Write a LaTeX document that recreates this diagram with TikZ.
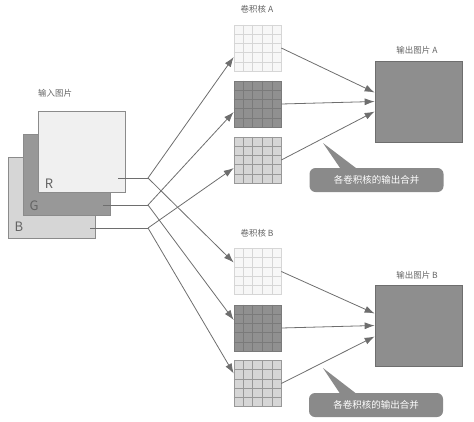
\documentclass[tikz,border=0pt]{standalone}
\usepackage{fontspec}
\newfontfamily\cjk{Noto Sans CJK SC}
\usetikzlibrary{arrows.meta,calc}
\definecolor{grisTrait}{RGB}{110,110,110}
\definecolor{grisTexte}{RGB}{100,100,100}
\definecolor{grisClair}{RGB}{240,240,240}
\definecolor{grisMoyen}{RGB}{214,214,214}
\definecolor{grisFonce}{RGB}{152,152,152}
\definecolor{grisSortie}{RGB}{142,142,142}
\definecolor{grisBulle}{RGB}{138,138,138}

% 5x5 grid over a kernel node
\newcommand{\grille}[2]{%
  \foreach \k in {1,...,4}{
    \draw[#2,line width=0.5pt] ($(#1.north west)!\k/5!(#1.north east)$) -- ($(#1.south west)!\k/5!(#1.south east)$);
    \draw[#2,line width=0.5pt] ($(#1.north west)!\k/5!(#1.south west)$) -- ($(#1.north east)!\k/5!(#1.south east)$);
  }}

\begin{document}
\begin{tikzpicture}[x=1pt,y=-1pt,font=\cjk,
  titre/.style={text=grisTexte,font=\cjk\fontsize{8.5}{10}\selectfont},
  entree/.style={rectangle,minimum width=87pt,minimum height=81pt,draw=grisTrait!80,line width=0.7pt},
  canal/.style={text=grisTexte,font=\cjk\fontsize{13}{13}\selectfont},
  noyau/.style={rectangle,minimum width=47pt,minimum height=46pt,inner sep=0pt,line width=0.6pt},
  sortie/.style={rectangle,minimum width=87pt,minimum height=81pt,draw=grisTrait,fill=grisSortie,line width=0.7pt},
  bulle/.style={rectangle,rounded corners=6pt,minimum width=134pt,minimum height=24pt,
                fill=grisBulle,text=white,font=\cjk\fontsize{9.5}{10}\selectfont},
  fil/.style={grisTrait,line width=0.8pt},
  fleche/.style={fil,-{Latex[length=10pt,width=7pt]}}]

  \useasboundingbox (0,0) rectangle (474,421);

  % input picture
  \node[titre] (tIn) at (55,93) {输入图片};
  \node[entree,fill=grisMoyen] (inB) at (51.5,197.5) {};
  \node[entree,fill=grisFonce] (inG) at (66.5,174.5) {};
  \node[entree,fill=grisClair] (inR) at (82,152) {};
  \node[canal] (lB) at (19,227) {B};
  \node[canal] (lG) at (34,206) {G};
  \node[canal] (lR) at (49,184) {R};

  % kernels A
  \node[titre] (tA) at (257,9) {卷积核 A};
  \node[noyau,fill=white!97!black,draw=grisMoyen] (kA1) at (257.5,48) {};
  \node[noyau,fill=grisFonce!95!black,draw=grisFonce!80!black] (kA2) at (257.5,104) {};
  \node[noyau,fill=grisMoyen,draw=grisFonce] (kA3) at (257.5,160) {};
  \grille{kA1}{grisMoyen}
  \grille{kA2}{grisFonce!80!black}
  \grille{kA3}{grisFonce}

  % kernels B
  \node[titre] (tB) at (257,233) {卷积核 B};
  \node[noyau,fill=white!97!black,draw=grisMoyen] (kB1) at (257.5,271.5) {};
  \node[noyau,fill=grisFonce!95!black,draw=grisFonce!80!black] (kB2) at (257.5,328) {};
  \node[noyau,fill=grisMoyen,draw=grisFonce] (kB3) at (257.5,383.5) {};
  \grille{kB1}{grisMoyen}
  \grille{kB2}{grisFonce!80!black}
  \grille{kB3}{grisFonce}

  % outputs
  \node[titre] (tOA) at (417,50) {输出图片 A};
  \node[sortie] (outA) at (418.5,101.5) {};
  \node[titre] (tOB) at (417,275) {输出图片 B};
  \node[sortie] (outB) at (418.5,325.5) {};

  % channels to forks
  \coordinate (dR) at (118,178);
  \coordinate (dG) at (103,205);
  \coordinate (dB) at (90,228);
  \coordinate (fR) at (148,178);
  \coordinate (fG) at (148,205);
  \coordinate (fB) at (148,228);
  \draw[fil] (dR) -- (fR);
  \draw[fil] (dG) -- (fG);
  \draw[fil] (dB) -- (fB);

  \draw[fleche] (fR) -- ([yshift=-9pt]kA1.west);
  \draw[fleche] (fG) -- ([yshift=-8pt]kA2.west);
  \draw[fleche] (fB) -- ([yshift=-8pt]kA3.west);
  \draw[fleche] (fR) -- ([yshift=9pt]kB1.west);
  \draw[fleche] (fG) -- ([yshift=8pt]kB2.west);
  \draw[fleche] (fB) -- ([yshift=10pt]kB3.west);

  % kernels to outputs
  \draw[fleche] (kA1.east) -- ([yshift=9pt]outA.west);
  \draw[fleche] (kA2.east) -- (outA.west);
  \draw[fleche] (kA3.east) -- ([yshift=-10pt]outA.west);
  \draw[fleche] (kB1.east) -- ([yshift=12pt]outB.west);
  \draw[fleche] (kB2.east) -- (outB.west);
  \draw[fleche] (kB3.east) -- ([yshift=-11pt]outB.west);

  % merge callouts
  \node[bulle] (bA) at (376.5,180) {各卷积核的输出合并};
  \coordinate (pA) at (323,143);
  \fill[grisBulle] (pA) -- ($(bA.north west)+(32,2)$) -- ($(bA.north west)+(49,2)$) -- cycle;
  \node[bulle] (bB) at (376,405) {各卷积核的输出合并};
  \coordinate (pB) at (323,368);
  \fill[grisBulle] (pB) -- ($(bB.north west)+(32,2)$) -- ($(bB.north west)+(49,2)$) -- cycle;
\end{tikzpicture}
\end{document}
